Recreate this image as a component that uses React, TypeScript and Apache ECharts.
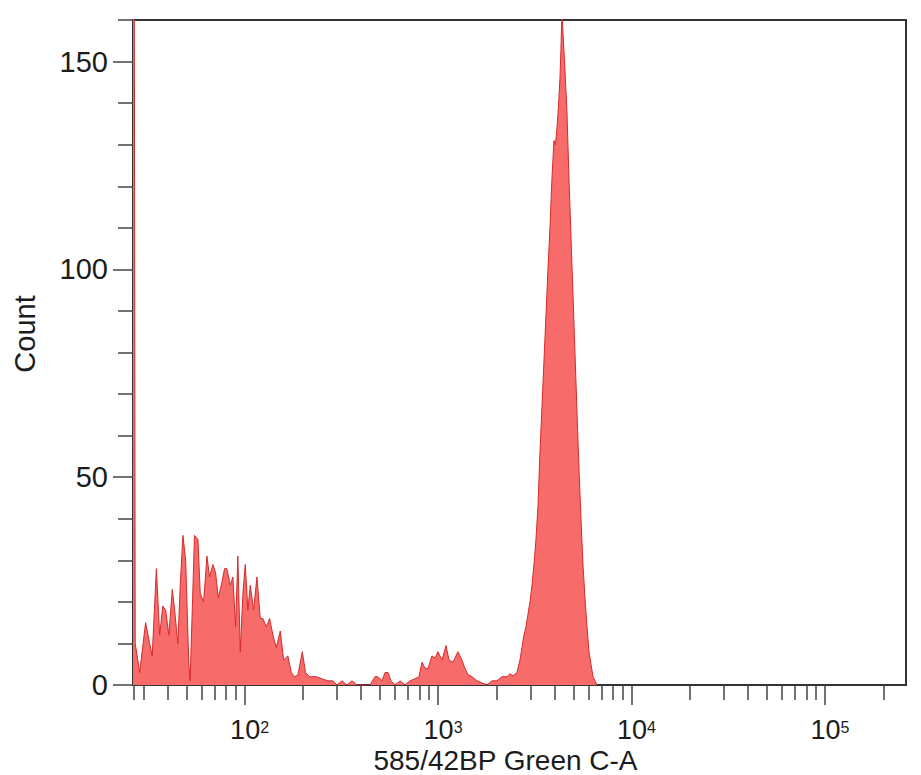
import React, { useEffect, useRef } from 'react';
import * as echarts from 'echarts';

// Histogram events: intensity (channel value) and count
const lowIntensity = [26.5, 27.2, 28.7, 29.7, 30.8, 32.3, 33.3, 35.0, 36.4, 37.8, 39.1, 40.6, 42.3, 43.5, 45.2, 46.5, 48.0, 49.6, 51.5, 52.3, 53.0, 55.1, 57.4, 59.0, 61.4, 63.9, 65.9, 68.6, 70.8, 73.1, 75.8, 78.8, 81.0, 84.4, 87.0, 89.8, 92.3, 95.0, 98.0, 100.8, 104.0, 107.0, 111.3, 115.8, 120.5, 124.3, 129.5, 134.7, 140.1, 145.8, 152.9, 159.1, 167.4, 174.3, 181.3, 188.6, 198.7, 206.6, 216.7, 234.8, 254.0, 269.5];
const lowCount = [400, 10, 3, 9, 15, 10, 7, 28, 12, 19, 18, 12, 23, 18, 10, 24, 36, 30, 5, 1, 10, 36, 35, 22, 20, 31, 26, 29, 27, 21, 24, 28, 28, 24, 26, 14, 31, 8, 22, 29, 18, 24, 18, 26, 16, 16, 14, 16, 12, 9, 13, 6, 7, 3, 2, 2.4, 8, 3, 2, 2, 1.4, 1];

const midIntensity = [286, 300, 319, 338, 359, 381, 419, 445, 472, 489, 513, 532, 551, 571, 599, 636, 675, 716, 760, 797, 826, 856, 887, 930, 964, 999, 1048, 1099, 1139, 1194, 1223, 1267, 1329, 1377, 1427, 1497, 1589, 1687, 1789, 1899, 2016, 2139, 2271, 2353, 2439, 2557];
const midCount = [1, 0, 1, 0, 1, 0, 0, 0, 2, 2, 1, 3, 3, 1, 0, 1, 0, 1, 1.5, 2, 5.5, 4, 4, 7, 6.5, 8, 6, 9.5, 6, 5.5, 6.5, 8, 6, 4, 2.5, 2, 1, 0.5, 0, 1, 1, 2, 2, 2.7, 2.2, 3];

const peakIntensity = [2650, 2714, 2779, 2847, 2915, 2985, 3057, 3131, 3206, 3284, 3363, 3444, 3527, 3612, 3698, 3787, 3879, 3972, 4043, 4116, 4190, 4266, 4316, 4368, 4420, 4527, 4636, 4748, 4863, 4980, 5100, 5223, 5349, 5478, 5610, 5745, 5884, 6026, 6171, 6320, 6472, 6629];
const peakCount = [6, 9, 12, 14, 17, 20, 24, 29, 35, 43, 56, 67, 78, 89, 100, 110, 122, 131, 130, 134, 139, 146, 153, 162, 157, 148, 138, 122, 108, 94, 80, 66, 52, 40, 29, 21, 14, 8, 5, 2, 1, 0];

// Axes
const X_MIN = 26.5;
const X_MAX = 262144;
const Y_MIN = 0;
const Y_MAX = 160;
const xMajorTicks = [100, 1000, 10000, 100000];
const xMinorTicks = [26.6, 30, 40, 50, 60, 70, 80, 90, 200, 300, 400, 500, 600, 700, 800, 900, 2000, 3000, 4000, 5000, 6000, 7000, 8000, 9000, 20000, 30000, 40000, 50000, 60000, 70000, 80000, 90000, 200000];
const yMajorTicks = [0, 50, 100, 150];
const yMinorTicks = [10, 20, 30, 40, 60, 70, 80, 90, 110, 120, 130, 140, 160];
const xTitle = '585/42BP Green C-A';
const yTitle = 'Count';

const FONT = '"Liberation Sans", Arial, Helvetica, sans-serif';
const TEXT = '#1c1c1c';
const AXIS = '#333333';
const W = 921;
const H = 775;

export default function App() {
  const ref = useRef<HTMLDivElement>(null);

  useEffect(() => {
    if (!ref.current) return;
    const chart = echarts.init(ref.current, undefined, { renderer: 'svg', width: W, height: H });

    const intens = [...lowIntensity, ...midIntensity, ...peakIntensity];
    const counts = [...lowCount, ...midCount, ...peakCount];
    const data = intens.map((v, i) => [v, counts[i]]);

    const option: any = {
      animation: false,
      backgroundColor: '#ffffff',
      grid: {
        left: 133, top: 20, right: 15, bottom: 90,
        containLabel: false, outerBoundsMode: 'none',
        show: true, borderColor: AXIS, borderWidth: 2, backgroundColor: 'transparent',
      },
      xAxis: [
        {
          type: 'log', logBase: 10, min: X_MIN, max: X_MAX, position: 'bottom', gridIndex: 0,
          axisLine: { show: true, onZero: false, lineStyle: { color: AXIS, width: 2 } },
          axisTick: { show: true, inside: false, length: 20, customValues: xMajorTicks, lineStyle: { color: '#444', width: 1.5 } },
          axisLabel: {
            show: true,
            customValues: xMajorTicks,
            margin: 34,
            padding: [0, 0, 0, 10],
            fontSize: 27, lineHeight: 22, fontFamily: FONT, color: TEXT,
            formatter: (v: number) => '10{s|' + Math.round(Math.log10(v)) + '}',
            rich: { s: { fontSize: 16, lineHeight: 22, fontFamily: FONT, color: TEXT, verticalAlign: 'top' } },
          },
          splitLine: { show: false },
          minorTick: { show: false },
          name: xTitle, nameLocation: 'middle', nameGap: 63, nameMoveOverlap: false,
          nameTextStyle: { fontSize: 28, lineHeight: 24, fontFamily: FONT, color: TEXT, padding: [0, 28, 0, 0] },
        },
        {
          type: 'log', logBase: 10, min: X_MIN, max: X_MAX, position: 'bottom', gridIndex: 0, offset: 0,
          axisLine: { show: false },
          axisTick: { show: true, inside: false, length: 15, customValues: xMinorTicks, lineStyle: { color: '#444', width: 1.5 } },
          axisLabel: { show: false },
          splitLine: { show: false },
        },
      ],
      yAxis: [
        {
          type: 'value', min: Y_MIN, max: Y_MAX, interval: 50, position: 'left', gridIndex: 0,
          axisLine: { show: true, onZero: false, lineStyle: { color: AXIS, width: 2 } },
          axisTick: { show: true, inside: false, length: 20, customValues: yMajorTicks, lineStyle: { color: '#444', width: 1.5 } },
          axisLabel: { show: true, customValues: yMajorTicks, margin: 25, fontSize: 29, fontFamily: FONT, color: TEXT },
          splitLine: { show: false },
        },
        {
          type: 'value', min: Y_MIN, max: Y_MAX, position: 'left', gridIndex: 0, offset: 0,
          axisLine: { show: false },
          axisTick: { show: true, inside: false, length: 15, customValues: yMinorTicks, lineStyle: { color: '#444', width: 1.5 } },
          axisLabel: { show: false },
          splitLine: { show: false },
        },
      ],
      graphic: [
        {
          type: 'text', x: 25, y: 334, rotation: Math.PI / 2,
          style: { text: yTitle, fontSize: 29, fontFamily: FONT, fill: TEXT, align: 'center', verticalAlign: 'middle' },
        },
      ],
      series: [
        {
          type: 'line', xAxisIndex: 0, yAxisIndex: 0, data,
          showSymbol: false, symbol: 'none', clip: true,
          lineStyle: { color: '#d42a2a', width: 1 },
          areaStyle: { color: '#f86b6b', opacity: 1 },
        },
      ],
    };

    chart.setOption(option);
    return () => chart.dispose();
  }, []);

  return <div ref={ref} style={{ position: 'fixed', left: 0, top: 0, width: W, height: H }} />;
}
